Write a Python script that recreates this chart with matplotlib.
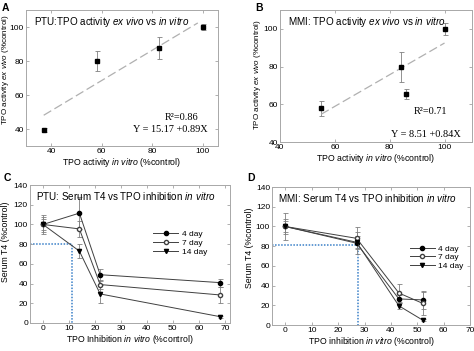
import matplotlib
matplotlib.use("Agg")
import matplotlib.pyplot as plt
import numpy as np

plt.rcParams['font.family'] = ['Liberation Sans', 'DejaVu Sans']
plt.rcParams['mathtext.fontset'] = 'custom'
plt.rcParams['mathtext.rm'] = 'Liberation Sans'
plt.rcParams['mathtext.it'] = 'Liberation Sans:italic'

# Panel A: PTU
a_x = [37, 58, 82.5, 100]
a_y = [39.5, 80, 87.5, 100]
a_err = [1, 6, 6.5, 2]
a_fit = (15.17, 0.89)
a_fit_x = [37, 98]

# Panel B: MMI
b_x = [55, 84, 86, 100]
b_y = [58, 80, 65.5, 100]
b_err = [4, 8, 2.5, 3]
b_fit = (8.51, 0.84)
b_fit_x = [55, 100]

# Panel C: PTU serum T4
c_x = [0, 14, 22, 68]
c_4 = [100, 111.5, 49, 41]
c_4e = [10, 16, 6, 4]
c_7 = [100, 95.5, 39, 28.5]
c_7e = [8, 8, 5, 8]
c_14 = [100, 73, 29.5, 6.5]
c_14e = [6, 7, 9, 1]
c_ref = (11.2, 80)

# Panel D: MMI serum T4
d_x = [0, 27, 43, 52]
d_4 = [100, 83, 26.5, 25.5]
d_4e = [14, 11, 4, 9]
d_7 = [100, 88, 32.5, 22]
d_7e = [8, 11, 9, 12]
d_14 = [100, 84, 19.5, 5]
d_14e = [6, 6, 3, 1]
d_ref = (27.5, 81)

series_labels = ['4 day', '7 day', '14 day']

fig = plt.figure(figsize=(4.74, 3.51), dpi=100)

fs_tick = 6.0
fs_lab = 6.3
fs_ylab = 5.8
fs_title = 7.1
spine_col = '#a8a8a8'
err_col = '#808080'


def style(ax):
    for s in ax.spines.values():
        s.set_color(spine_col)
        s.set_linewidth(0.7)
    ax.tick_params(direction='in', top=True, right=True, length=2, width=0.5,
                   color='#909090', labelsize=fs_tick, pad=1.5)


def scatter_panel(ax, x, y, err, fit, fitx, title, r2, eq, xlim, ylim, xt, yt,
                  annx, anny, ylc):
    style(ax)
    ax.errorbar(x, y, yerr=err, fmt='s', ms=2.2, color='black', ecolor=err_col,
                elinewidth=0.6, capsize=1.8, capthick=0.6)
    fx = np.array(fitx)
    ax.plot(fx, fit[0] + fit[1] * fx, color='#b0b0b0', lw=0.9, dashes=(7, 3))
    ax.set_xlim(*xlim)
    ax.set_ylim(*ylim)
    ax.set_xticks(xt)
    ax.set_yticks(yt)
    ax.text(0.04, 0.965, title, transform=ax.transAxes, fontsize=fs_title,
            va='top', ha='left')
    ax.text(annx[0], anny[0], r2, fontsize=7.4, family='Liberation Serif', ha='center', va='center')
    ax.text(annx[1], anny[1], eq, fontsize=7.4, family='Liberation Serif', ha='center', va='center')
    ax.set_xlabel(r'TPO activity $in\ vitro$ (%control)', fontsize=fs_lab, labelpad=1)
    ax.set_ylabel(r'TPO activity $ex\ vivo$ (%control)', fontsize=fs_ylab)
    ax.yaxis.set_label_coords(*ylc)


def t4_panel(ax, x, ys, errs, ref, title, xlabel, xmax, legx, legy, ylc):
    style(ax)
    markers = [dict(marker='o', mfc='black', mec='black'),
               dict(marker='o', mfc='white', mec='#404040'),
               dict(marker='v', mfc='black', mec='black')]
    ax.plot([-5, ref[0], ref[0]], [ref[1], ref[1], 0], color='#3a80c8', lw=1.1,
            ls=(0, (1, 1)), zorder=1)
    handles = []
    for yv, ev, mk, lab in zip(ys, errs, markers, series_labels):
        ax.errorbar(x, yv, yerr=ev, fmt='none', ecolor=err_col, elinewidth=0.6,
                    capsize=1.8, capthick=0.6, zorder=2)
        h, = ax.plot(x, yv, color='#404040', lw=0.7, ms=3, zorder=3, label=lab, **mk)
        handles.append(h)
    ax.set_xlim(-5, xmax)
    ax.set_ylim(0, 140)
    ax.set_xticks(range(0, 71, 10))
    ax.set_yticks(range(0, 141, 20))
    ax.text(0.03, 0.965, title, transform=ax.transAxes, fontsize=fs_title,
            va='top', ha='left')
    ax.set_xlabel(xlabel, fontsize=fs_lab, labelpad=1)
    ax.set_ylabel('Serum T4 (%control)', fontsize=fs_lab)
    ax.yaxis.set_label_coords(*ylc)
    ax.legend(handles=handles, loc='center', bbox_to_anchor=(legx, legy),
              frameon=False, fontsize=6.0, handlelength=3.0, handletextpad=0.4,
              labelspacing=0.1, borderpad=0)


axA = fig.add_axes([0.0549, 0.584, 0.405, 0.3875])
scatter_panel(axA, a_x, a_y, a_err, a_fit, a_fit_x,
              r'PTU:TPO activity $ex\ vivo$ vs $in\ vitro$',
              'R²=0.86', 'Y = 15.17 +0.89X',
              (30, 106), (30, 110), [40, 60, 80, 100], [40, 60, 80, 100],
              (91.5, 87), (47, 40), (-0.078, 0.56))

axB = fig.add_axes([0.5907, 0.5954, 0.405, 0.376])
scatter_panel(axB, b_x, b_y, b_err, b_fit, b_fit_x,
              r'MMI: TPO activity $ex\ vivo$ vs $in\ vitro$',
              'R²=0.71', 'Y = 8.51 +0.84X',
              (40, 110), (40, 110), [40, 60, 80, 100], [40, 60, 80, 100],
              (94.7, 93.3), (56, 44), (-0.09, 0.51))

axC = fig.add_axes([0.0633, 0.0798, 0.422, 0.393])
t4_panel(axC, c_x, [c_4, c_7, c_14], [c_4e, c_7e, c_14e], c_ref,
         r'PTU: Serum T4 vs TPO inhibition $in\ vitro$',
         r'TPO Inhibition $in\ vitro$ (%control)', 72, 0.75, 0.58, (-0.10, 0.59))

axD = fig.add_axes([0.574, 0.074, 0.418, 0.393])
t4_panel(axD, d_x, [d_4, d_7, d_14], [d_4e, d_7e, d_14e], d_ref,
         r'MMI: Serum T4 vs TPO inhibition $in\ vitro$',
         r'TPO inhibition $in\ vitro$ (%control)', 70, 0.83, 0.49, (-0.092, 0.56))

for lab, (px, py) in zip('ABCD', [(2, 8), (255, 8), (4, 178), (247, 178)]):
    fig.text(px / 474, 1 - py / 351, lab, fontsize=7.5, fontweight='bold',
             va='center', ha='left')

fig.savefig('out.png', dpi=100)
